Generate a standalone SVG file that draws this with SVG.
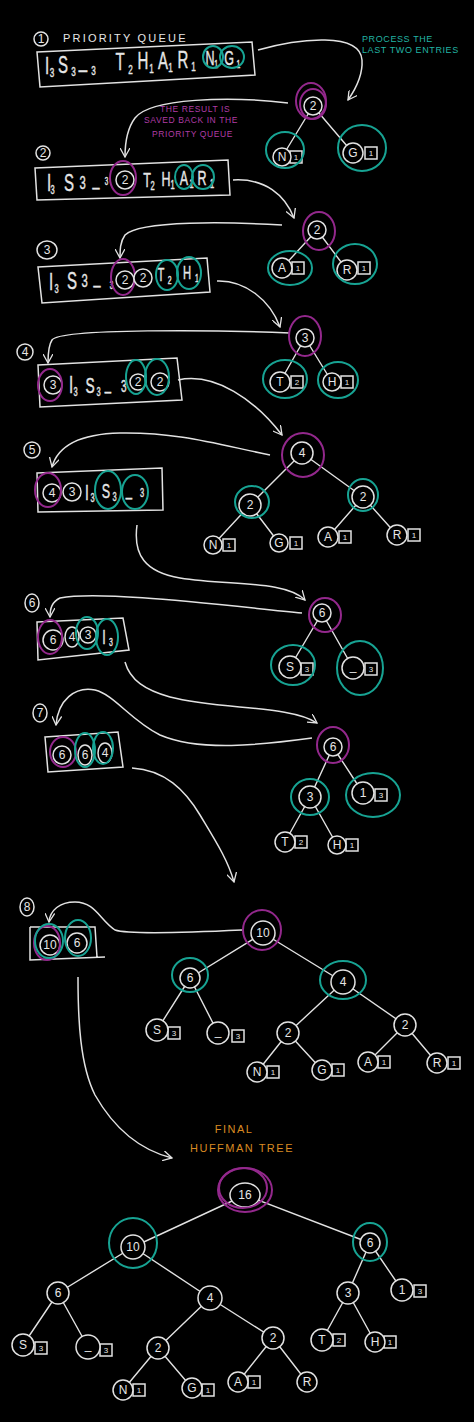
<svg xmlns="http://www.w3.org/2000/svg" width="474" height="1422" viewBox="0 0 474 1422">
<defs>
<style>
.w{fill:none;stroke:#e2e2e2;stroke-width:1.5}
.nd{fill:#000;stroke:#e2e2e2;stroke-width:1.5}
.m{fill:none;stroke:#93288c;stroke-width:2}
.t{fill:none;stroke:#17a393;stroke-width:2}
.e{fill:none;stroke:#e2e2e2;stroke-width:1.4}
.a{fill:none;stroke:#e2e2e2;stroke-width:1.5;marker-end:url(#ah)}
text{font-family:"Liberation Sans",Arial,sans-serif;fill:#e6e6e6}
.c{text-anchor:middle;dominant-baseline:central;font-size:12px}
.b{text-anchor:middle;dominant-baseline:central;font-size:8px}
.u{text-anchor:middle;font-size:12px}
.q{text-anchor:middle;stroke:#e6e6e6;stroke-width:0.4}
.pt{font-size:9px;fill:#22b3a3;letter-spacing:0.6px}
.mt{font-size:8.5px;fill:#b03ca5;letter-spacing:0.6px}
.ot{font-size:11px;fill:#d98a22;text-anchor:middle;letter-spacing:1.5px}
.h{font-size:11px;letter-spacing:2.2px}
</style>
<marker id="ah" viewBox="0 0 10 10" refX="9" refY="5" markerWidth="10" markerHeight="10" markerUnits="userSpaceOnUse" orient="auto">
<path d="M0,0 L9,5 L0,10" fill="none" stroke="#e2e2e2" stroke-width="1.3"/>
</marker>
</defs>
<rect width="474" height="1422" fill="#000"/>

<g id="connectors">
<path class="a" d="M258,50 C300,38 360,32 362,60 C363,75 355,90 348,100"/>
<path class="a" d="M288,103 C230,96 150,98 135,118 C126,130 125,145 125,157"/>
<path class="a" d="M233,180 C265,178 285,195 294,218"/>
<path class="a" d="M282,225 C230,222 140,220 125,235 C120,242 120,250 120,258"/>
<path class="a" d="M217,281 C245,280 270,300 280,327"/>
<path class="a" d="M290,333 C220,330 60,328 52,340 C48,346 48,355 48,363"/>
<path class="a" d="M178,380 C215,372 255,400 282,435"/>
<path class="a" d="M270,455 C220,445 180,432 120,433 C80,434 58,445 52,467"/>
<path class="a" d="M137,525 C133,555 145,572 180,578 C230,586 285,580 305,600"/>
<path class="a" d="M302,613 C220,605 100,590 60,598 C52,602 50,608 50,617"/>
<path class="a" d="M125,662 C130,680 145,690 170,697 C220,710 290,705 317,723"/>
<path class="a" d="M312,738 C260,745 200,752 160,735 C130,720 115,695 95,690 C75,686 58,700 56,725"/>
<path class="a" d="M132,768 C165,770 185,790 200,815 C215,840 228,860 234,882"/>
<path class="a" d="M242,930 C200,932 130,935 115,930 C100,920 95,902 75,902 C60,902 50,910 49,922"/>
<path class="a" d="M78,977 C78,1020 80,1065 95,1095 C115,1130 140,1150 172,1158"/>
<path class="e" d="M313,106 L282,157 M313,106 L353,153"/>
<path class="e" d="M317,230 L282,268 M317,230 L347,270"/>
<path class="e" d="M305,338 L280,382 M305,338 L332,382"/>
<path class="e" d="M302,453 L250,505 M302,453 L363,497 M250,505 L213,545 M250,505 L279,543 M363,497 L328,537 M363,497 L397,535"/>
<path class="e" d="M322,613 L290,667 M322,613 L353,668"/>
<path class="e" d="M333,747 L310,797 M333,747 L363,793 M310,797 L285,842 M310,797 L337,845"/>
<path class="e" d="M263,933 L190,978 M263,933 L343,982 M190,978 L157,1030 M190,978 L218,1033 M343,982 L288,1033 M343,982 L405,1025 M288,1033 L257,1072 M288,1033 L322,1070 M405,1025 L368,1062 M405,1025 L437,1063"/>
<path class="e" d="M245,1195 L133,1247 M245,1195 L370,1243 M133,1247 L58,1293 M133,1247 L210,1298 M58,1293 L23,1345 M58,1293 L88,1347 M210,1298 L158,1348 M210,1298 L273,1338 M158,1348 L123,1390 M158,1348 L192,1388 M273,1338 L238,1382 M273,1338 L307,1382 M370,1243 L348,1293 M370,1243 L402,1290 M348,1293 L322,1340 M348,1293 L375,1342"/>
</g>

<g id="labels">
<circle class="w" cx="41" cy="39" r="7"/><text class="c" x="41" y="39" font-size="9">1</text>
<text class="h" x="63" y="42">PRIORITY QUEUE</text>
<text class="pt" x="362" y="42">PROCESS THE</text>
<text class="pt" x="362" y="53">LAST TWO ENTRIES</text>
<text class="mt" x="160" y="112">THE RESULT IS</text>
<text class="mt" x="144" y="123">SAVED BACK IN THE</text>
<text class="mt" x="152" y="137">PRIORITY QUEUE</text>
<text class="ot" x="234" y="1133">FINAL</text>
<text class="ot" x="242" y="1152">HUFFMAN TREE</text>
</g>

<g id="queue1">
<polygon class="w" points="37,52 252,42 255,75 40,87"/>
<text class="q" transform="scale(0.625,1)">
<tspan x="75.2" y="74" font-size="24">I</tspan><tspan x="85.6" y="77" font-size="13">3</tspan>
<tspan x="100.8" y="73" font-size="24">S</tspan><tspan x="120" y="76" font-size="13">3</tspan>
<tspan x="132.8" y="67" font-size="24">_</tspan><tspan x="152" y="75" font-size="13">3</tspan>
<tspan x="192" y="70.5" font-size="24">T</tspan><tspan x="211.2" y="74" font-size="13">2</tspan>
<tspan x="228.8" y="69.5" font-size="24">H</tspan><tspan x="244.8" y="73" font-size="13">1</tspan>
<tspan x="260.8" y="68.6" font-size="24">A</tspan><tspan x="275.2" y="72" font-size="13">1</tspan>
<tspan x="292.8" y="67.8" font-size="24">R</tspan><tspan x="312" y="71" font-size="13">1</tspan>
<tspan x="336" y="65.5" font-size="20">N</tspan><tspan x="348" y="68" font-size="11">1</tspan>
<tspan x="366.4" y="65" font-size="20">G</tspan><tspan x="381.6" y="68" font-size="11">1</tspan>
</text>
<ellipse class="t" cx="213" cy="57" rx="10" ry="11"/>
<ellipse class="t" cx="232" cy="57" rx="12" ry="11"/>
</g>

<g id="queue2">
<circle class="w" cx="43" cy="153" r="7"/><text class="c" x="43" y="153" font-size="9">2</text>
<polygon class="w" points="35,168 228,160 230,195 37,200"/>
<text class="q" transform="scale(0.625,1)">
<tspan x="78.4" y="191.5" font-size="24">I</tspan><tspan x="86.4" y="194" font-size="12">3</tspan>
<tspan x="110.4" y="191" font-size="24">S</tspan><tspan x="134.4" y="189" font-size="18">3</tspan>
<tspan x="153.6" y="185" font-size="20">_</tspan><tspan x="172.8" y="185" font-size="10">3</tspan>
<tspan x="235.2" y="187" font-size="20">T</tspan><tspan x="246.4" y="190" font-size="12">2</tspan>
<tspan x="265.6" y="186" font-size="20">H</tspan><tspan x="278.4" y="189" font-size="12">1</tspan>
<tspan x="294.4" y="185.5" font-size="20">A</tspan><tspan x="308.8" y="188" font-size="12">1</tspan>
<tspan x="323.2" y="185" font-size="20">R</tspan><tspan x="339.2" y="188" font-size="12">1</tspan>
</text>
<circle class="nd" cx="125" cy="180" r="9"/><text class="c" x="125" y="180">2</text>
<ellipse class="m" cx="123" cy="178" rx="13" ry="17"/>
<ellipse class="t" cx="184" cy="177" rx="9" ry="12"/>
<ellipse class="t" cx="203" cy="177" rx="11" ry="12"/>
</g>

<g id="queue3">
<ellipse class="w" cx="47" cy="250" rx="10" ry="9"/><text class="c" x="47" y="250" font-size="10">3</text>
<polygon class="w" points="38,267 207,258 210,292 42,303"/>
<text class="q" transform="scale(0.625,1)">
<tspan x="81.6" y="290" font-size="24">I</tspan><tspan x="92.8" y="293" font-size="12">3</tspan>
<tspan x="115.2" y="289" font-size="24">S</tspan><tspan x="137.6" y="287" font-size="18">3</tspan>
<tspan x="155.2" y="283" font-size="20">_</tspan><tspan x="180.8" y="289" font-size="10">3</tspan>
<tspan x="257.6" y="281.5" font-size="18">T</tspan><tspan x="273.6" y="284" font-size="11">2</tspan>
<tspan x="299.2" y="279.5" font-size="18">H</tspan><tspan x="315.2" y="282" font-size="11">1</tspan>
</text>
<circle class="nd" cx="125" cy="280" r="9"/><text class="c" x="125" y="280">2</text>
<ellipse class="m" cx="123" cy="277" rx="12" ry="18"/>
<circle class="nd" cx="143" cy="278" r="9"/><text class="c" x="143" y="278">2</text>
<ellipse class="t" cx="167" cy="275" rx="11" ry="15"/>
<ellipse class="t" cx="189" cy="273" rx="12" ry="16"/>
</g>

<g id="queue4">
<circle class="w" cx="25" cy="352" r="8"/><text class="c" x="25" y="352" font-size="10">4</text>
<polygon class="w" points="38,365 177,358 182,400 40,407"/>
<circle class="nd" cx="53" cy="385" r="9"/><text class="c" x="53" y="385">3</text>
<ellipse class="m" cx="50" cy="385" rx="12" ry="16"/>
<text class="q" transform="scale(0.625,1)">
<tspan x="113.6" y="393" font-size="24">I</tspan><tspan x="123.2" y="396" font-size="12">3</tspan>
<tspan x="144" y="393" font-size="22">S</tspan><tspan x="160" y="396" font-size="12">3</tspan>
<tspan x="172.8" y="389" font-size="18">_</tspan><tspan x="198" y="392" font-size="16">3</tspan>
</text>
<circle class="nd" cx="138" cy="382" r="8"/><text class="c" x="138" y="382">2</text>
<ellipse class="t" cx="136" cy="377" rx="10" ry="17"/>
<circle class="nd" cx="160" cy="382" r="9"/><text class="c" x="160" y="382">2</text>
<ellipse class="t" cx="157" cy="377" rx="12" ry="18"/>
</g>

<g id="queue5">
<circle class="w" cx="32" cy="450" r="8"/><text class="c" x="32" y="450" font-size="10">5</text>
<polygon class="w" points="37,473 162,468 163,510 38,512"/>
<circle class="nd" cx="52" cy="493" r="9"/><text class="c" x="52" y="493">4</text>
<ellipse class="m" cx="48" cy="490" rx="13" ry="17"/>
<circle class="nd" cx="72" cy="492" r="9"/><text class="c" x="72" y="492">3</text>
<text class="q" transform="scale(0.625,1)">
<tspan x="139.2" y="500" font-size="22">I</tspan><tspan x="150.4" y="502" font-size="12">3</tspan>
<tspan x="169.6" y="498" font-size="20">S</tspan><tspan x="185.6" y="501" font-size="12">3</tspan>
<tspan x="206.4" y="495" font-size="18">_</tspan><tspan x="227.2" y="497" font-size="12">3</tspan>
</text>
<ellipse class="t" cx="108" cy="490" rx="13" ry="19"/>
<ellipse class="t" cx="135" cy="492" rx="13" ry="17"/>
</g>

<g id="queue6">
<ellipse class="w" cx="32" cy="603" rx="7" ry="9"/><text class="c" x="32" y="603" font-size="10">6</text>
<polygon class="w" points="37,622 123,618 129,650 38,660"/>
<circle class="nd" cx="53" cy="640" r="10"/><text class="c" x="53" y="640">6</text>
<ellipse class="m" cx="50" cy="637" rx="12" ry="17"/>
<ellipse class="nd" cx="72" cy="637" rx="7" ry="10"/><text class="c" x="72" y="637" font-size="11">4</text>
<circle class="nd" cx="88" cy="635" r="8"/><text class="c" x="88" y="635">3</text>
<ellipse class="t" cx="87" cy="633" rx="11" ry="16"/>
<text class="q" transform="scale(0.625,1)">
<tspan x="166.4" y="644" font-size="20">I</tspan><tspan x="177.6" y="646" font-size="11">3</tspan>
</text>
<ellipse class="t" cx="107" cy="637" rx="11" ry="18"/>
</g>

<g id="queue7">
<ellipse class="w" cx="40" cy="713" rx="7" ry="9"/><text class="c" x="40" y="713" font-size="10">7</text>
<polygon class="w" points="45,737 118,732 123,767 48,772"/>
<circle class="nd" cx="62" cy="755" r="9"/><text class="c" x="62" y="755">6</text>
<ellipse class="m" cx="63" cy="752" rx="13" ry="15"/>
<ellipse class="nd" cx="85" cy="755" rx="7" ry="10"/><text class="c" x="85" y="755" font-size="11">6</text>
<ellipse class="t" cx="85" cy="750" rx="10" ry="17"/>
<ellipse class="nd" cx="105" cy="753" rx="7" ry="10"/><text class="c" x="105" y="753" font-size="11">4</text>
<ellipse class="t" cx="103" cy="748" rx="10" ry="16"/>
</g>

<g id="queue8">
<ellipse class="w" cx="27" cy="907" rx="7" ry="9"/><text class="c" x="27" y="907" font-size="10">8</text>
<path class="w" d="M30,927 L95,927 L97,957 M105,957 L30,960 L30,927"/>
<circle class="nd" cx="50" cy="945" r="10"/><text class="c" x="50" y="945">10</text>
<ellipse class="m" cx="47" cy="943" rx="13" ry="17"/>
<ellipse class="t" cx="49" cy="941" rx="14" ry="17"/>
<circle class="nd" cx="77" cy="943" r="10"/><text class="c" x="77" y="943">6</text>
<ellipse class="t" cx="78" cy="938" rx="13" ry="18"/>
</g>

<!-- tree 1 -->
<g id="t1-root"><circle class="nd" cx="313" cy="106" r="9"/><text class="c" x="313" y="106">2</text><ellipse class="m" cx="311" cy="101" rx="15" ry="18"/><ellipse class="m" cx="313" cy="104" rx="13" ry="15"/></g>
<g id="t1-N"><rect class="nd" x="290" y="151" width="12" height="12"/><circle class="nd" cx="282" cy="157" r="9"/><text class="c" x="282" y="157">N</text><text class="b" x="296" y="157">1</text><ellipse class="t" cx="285" cy="150" rx="19" ry="18"/></g>
<g id="t1-G"><rect class="nd" x="365" y="147" width="12" height="12"/><circle class="nd" cx="353" cy="153" r="10"/><text class="c" x="353" y="153">G</text><text class="b" x="371" y="153">1</text><ellipse class="t" cx="362" cy="148" rx="24" ry="23"/></g>

<!-- tree 2 -->
<g id="t2-root"><circle class="nd" cx="317" cy="230" r="9"/><text class="c" x="317" y="230">2</text><ellipse class="m" cx="319" cy="231" rx="16" ry="19"/></g>
<g id="t2-A"><rect class="nd" x="292" y="262" width="12" height="12"/><circle class="nd" cx="282" cy="268" r="10"/><text class="c" x="282" y="268">A</text><text class="b" x="298" y="268">1</text><ellipse class="t" cx="290" cy="268" rx="22" ry="17"/></g>
<g id="t2-R"><rect class="nd" x="358" y="262" width="12" height="12"/><circle class="nd" cx="347" cy="270" r="10"/><text class="c" x="347" y="270">R</text><text class="b" x="364" y="268">1</text><ellipse class="t" cx="355" cy="264" rx="22" ry="20"/></g>

<!-- tree 3 -->
<g id="t3-root"><circle class="nd" cx="305" cy="338" r="9"/><text class="c" x="305" y="338">3</text><ellipse class="m" cx="305" cy="336" rx="16" ry="20"/></g>
<g id="t3-T"><rect class="nd" x="291" y="376" width="12" height="12"/><circle class="nd" cx="280" cy="382" r="10"/><text class="c" x="280" y="382">T</text><text class="b" x="297" y="382">2</text><ellipse class="t" cx="285" cy="379" rx="22" ry="19"/></g>
<g id="t3-H"><rect class="nd" x="341" y="376" width="12" height="12"/><circle class="nd" cx="332" cy="382" r="9"/><text class="c" x="332" y="382">H</text><text class="b" x="347" y="382">1</text><ellipse class="t" cx="338" cy="380" rx="20" ry="18"/></g>

<!-- tree 4 -->
<g id="t4-root"><circle class="nd" cx="302" cy="453" r="11"/><text class="c" x="302" y="453">4</text><ellipse class="m" cx="303" cy="455" rx="21" ry="22"/></g>
<g id="t4-2a"><circle class="nd" cx="250" cy="505" r="11"/><text class="c" x="250" y="505">2</text><ellipse class="t" cx="252" cy="502" rx="17" ry="16"/></g>
<g id="t4-2b"><circle class="nd" cx="363" cy="497" r="11"/><text class="c" x="363" y="497">2</text><ellipse class="t" cx="363" cy="495" rx="15" ry="16"/></g>
<g id="t4-N"><rect class="nd" x="223" y="539" width="12" height="12"/><circle class="nd" cx="213" cy="545" r="9"/><text class="c" x="213" y="545">N</text><text class="b" x="229" y="545">1</text></g>
<g id="t4-G"><rect class="nd" x="290" y="537" width="12" height="12"/><circle class="nd" cx="279" cy="543" r="9"/><text class="c" x="279" y="543">G</text><text class="b" x="296" y="543">1</text></g>
<g id="t4-A"><rect class="nd" x="339" y="531" width="12" height="12"/><circle class="nd" cx="328" cy="537" r="10"/><text class="c" x="328" y="537">A</text><text class="b" x="345" y="537">1</text></g>
<g id="t4-R"><rect class="nd" x="408" y="529" width="12" height="12"/><circle class="nd" cx="397" cy="535" r="10"/><text class="c" x="397" y="535">R</text><text class="b" x="414" y="535">1</text></g>

<!-- tree 6 -->
<g id="t6-root"><circle class="nd" cx="322" cy="613" r="9"/><text class="c" x="322" y="613">6</text><ellipse class="m" cx="325" cy="615" rx="16" ry="17"/></g>
<g id="t6-S"><rect class="nd" x="301" y="663" width="12" height="12"/><circle class="nd" cx="290" cy="667" r="11"/><text class="c" x="290" y="667">S</text><text class="b" x="307" y="669">3</text><ellipse class="t" cx="293" cy="665" rx="22" ry="20"/></g>
<g id="t6-sp"><rect class="nd" x="365" y="663" width="12" height="12"/><circle class="nd" cx="353" cy="668" r="11"/><text class="u" x="353" y="670">_</text><text class="b" x="371" y="669">3</text><ellipse class="t" cx="360" cy="668" rx="23" ry="27"/></g>

<!-- tree 7 -->
<g id="t7-root"><circle class="nd" cx="333" cy="747" r="9"/><text class="c" x="333" y="747">6</text><ellipse class="m" cx="333" cy="745" rx="16" ry="18"/></g>
<g id="t7-3"><circle class="nd" cx="310" cy="797" r="11"/><text class="c" x="310" y="797">3</text><ellipse class="t" cx="310" cy="797" rx="19" ry="18"/></g>
<g id="t7-1"><rect class="nd" x="375" y="789" width="12" height="12"/><circle class="nd" cx="363" cy="793" r="11"/><text class="c" x="363" y="793">1</text><text class="b" x="381" y="795">3</text><ellipse class="t" cx="373" cy="795" rx="27" ry="22"/></g>
<g id="t7-T"><rect class="nd" x="295" y="836" width="12" height="12"/><circle class="nd" cx="285" cy="842" r="10"/><text class="c" x="285" y="842">T</text><text class="b" x="301" y="842">2</text></g>
<g id="t7-H"><rect class="nd" x="346" y="839" width="12" height="12"/><circle class="nd" cx="337" cy="845" r="9"/><text class="c" x="337" y="845">H</text><text class="b" x="352" y="845">1</text></g>

<!-- tree 8 -->
<g id="t8-root"><circle class="nd" cx="263" cy="933" r="12"/><text class="c" x="263" y="933">10</text><ellipse class="m" cx="262" cy="930" rx="19" ry="20"/></g>
<g id="t8-6"><circle class="nd" cx="190" cy="978" r="10"/><text class="c" x="190" y="978">6</text><ellipse class="t" cx="190" cy="975" rx="18" ry="17"/></g>
<g id="t8-4"><circle class="nd" cx="343" cy="982" r="12"/><text class="c" x="343" y="982">4</text><ellipse class="t" cx="343" cy="980" rx="23" ry="19"/></g>
<g id="t8-S"><rect class="nd" x="168" y="1027" width="12" height="12"/><circle class="nd" cx="157" cy="1030" r="11"/><text class="c" x="157" y="1030">S</text><text class="b" x="174" y="1033">3</text></g>
<g id="t8-sp"><rect class="nd" x="232" y="1030" width="12" height="12"/><circle class="nd" cx="218" cy="1033" r="11"/><text class="u" x="218" y="1035">_</text><text class="b" x="238" y="1036">3</text></g>
<g id="t8-2a"><circle class="nd" cx="288" cy="1033" r="11"/><text class="c" x="288" y="1033">2</text></g>
<g id="t8-2b"><circle class="nd" cx="405" cy="1025" r="11"/><text class="c" x="405" y="1025">2</text></g>
<g id="t8-N"><rect class="nd" x="267" y="1066" width="12" height="12"/><circle class="nd" cx="257" cy="1072" r="10"/><text class="c" x="257" y="1072">N</text><text class="b" x="273" y="1072">1</text></g>
<g id="t8-G"><rect class="nd" x="332" y="1064" width="12" height="12"/><circle class="nd" cx="322" cy="1070" r="10"/><text class="c" x="322" y="1070">G</text><text class="b" x="338" y="1070">1</text></g>
<g id="t8-A"><rect class="nd" x="378" y="1056" width="12" height="12"/><circle class="nd" cx="368" cy="1062" r="10"/><text class="c" x="368" y="1062">A</text><text class="b" x="384" y="1062">1</text></g>
<g id="t8-R"><rect class="nd" x="448" y="1057" width="12" height="12"/><circle class="nd" cx="437" cy="1063" r="10"/><text class="c" x="437" y="1063">R</text><text class="b" x="454" y="1063">1</text></g>

<!-- final tree -->
<g id="f-root"><ellipse class="nd" cx="245" cy="1195" rx="15" ry="12"/><text class="c" x="245" y="1195">16</text><ellipse class="m" cx="245" cy="1190" rx="27" ry="22"/><ellipse class="m" cx="243" cy="1188" rx="24" ry="20"/></g>
<g id="f-10"><circle class="nd" cx="133" cy="1247" r="12"/><text class="c" x="133" y="1247">10</text><ellipse class="t" cx="133" cy="1243" rx="24" ry="25"/></g>
<g id="f-6r"><circle class="nd" cx="370" cy="1243" r="10"/><text class="c" x="370" y="1243">6</text><ellipse class="t" cx="370" cy="1242" rx="17" ry="19"/></g>
<g id="f-6l"><circle class="nd" cx="58" cy="1293" r="11"/><text class="c" x="58" y="1293">6</text></g>
<g id="f-4"><circle class="nd" cx="210" cy="1298" r="12"/><text class="c" x="210" y="1298">4</text></g>
<g id="f-S"><rect class="nd" x="35" y="1342" width="12" height="12"/><circle class="nd" cx="23" cy="1345" r="11"/><text class="c" x="23" y="1345">S</text><text class="b" x="41" y="1348">3</text></g>
<g id="f-sp"><rect class="nd" x="100" y="1344" width="12" height="12"/><circle class="nd" cx="88" cy="1347" r="12"/><text class="u" x="88" y="1349">_</text><text class="b" x="106" y="1350">3</text></g>
<g id="f-2a"><circle class="nd" cx="158" cy="1348" r="11"/><text class="c" x="158" y="1348">2</text></g>
<g id="f-2b"><circle class="nd" cx="273" cy="1338" r="11"/><text class="c" x="273" y="1338">2</text></g>
<g id="f-N"><rect class="nd" x="133" y="1384" width="12" height="12"/><circle class="nd" cx="123" cy="1390" r="10"/><text class="c" x="123" y="1390">N</text><text class="b" x="139" y="1390">1</text></g>
<g id="f-G"><rect class="nd" x="202" y="1384" width="12" height="12"/><circle class="nd" cx="192" cy="1388" r="10"/><text class="c" x="192" y="1388">G</text><text class="b" x="208" y="1390">1</text></g>
<g id="f-A"><rect class="nd" x="248" y="1376" width="12" height="12"/><circle class="nd" cx="238" cy="1382" r="10"/><text class="c" x="238" y="1382">A</text><text class="b" x="254" y="1382">1</text></g>
<g id="f-R"><circle class="nd" cx="307" cy="1382" r="10"/><text class="c" x="307" y="1382">R</text></g>
<g id="f-3"><circle class="nd" cx="348" cy="1293" r="11"/><text class="c" x="348" y="1293">3</text></g>
<g id="f-1"><rect class="nd" x="414" y="1285" width="12" height="12"/><circle class="nd" cx="402" cy="1290" r="11"/><text class="c" x="402" y="1290">1</text><text class="b" x="420" y="1291">3</text></g>
<g id="f-T"><rect class="nd" x="333" y="1334" width="12" height="12"/><circle class="nd" cx="322" cy="1340" r="11"/><text class="c" x="322" y="1340">T</text><text class="b" x="339" y="1340">2</text></g>
<g id="f-H"><rect class="nd" x="384" y="1336" width="12" height="12"/><circle class="nd" cx="375" cy="1342" r="10"/><text class="c" x="375" y="1342">H</text><text class="b" x="390" y="1342">1</text></g>
</svg>
